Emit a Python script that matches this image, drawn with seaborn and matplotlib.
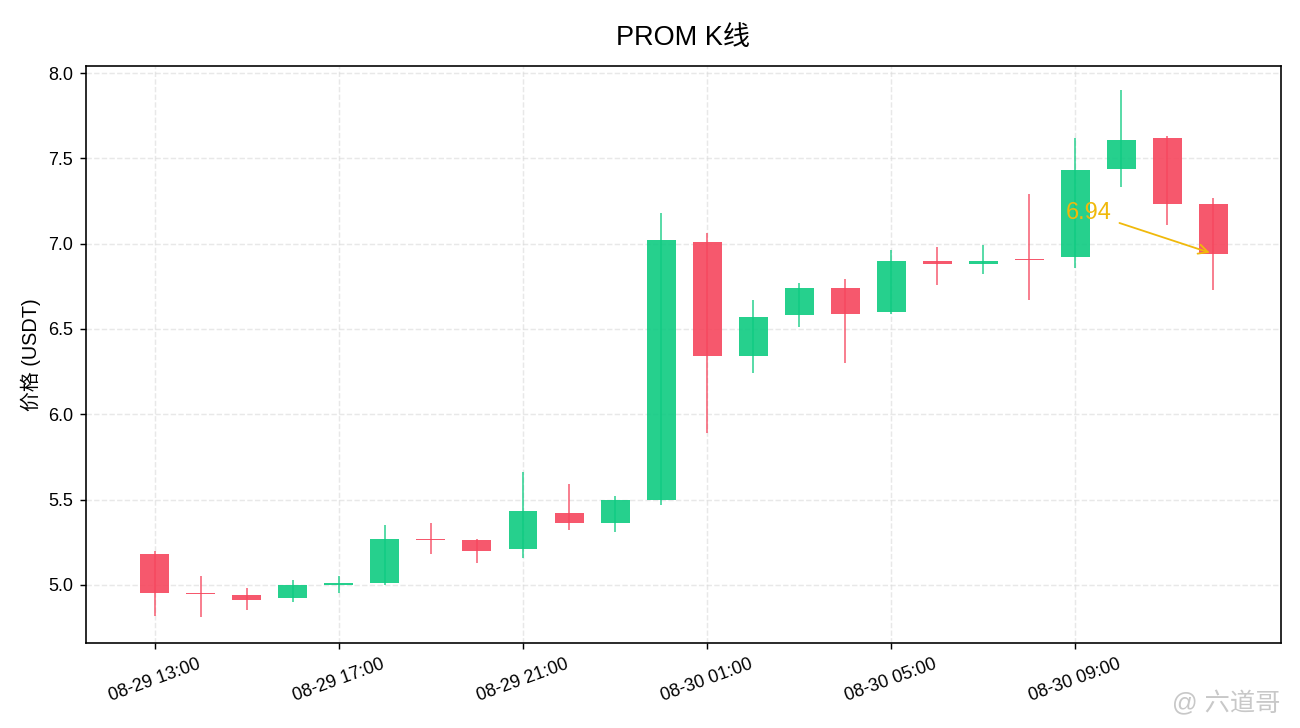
import seaborn as sns
import matplotlib.pyplot as plt
import pandas as pd

# hourly candles, PROM/USDT
times = ["2025-08-29 13:00", "2025-08-29 14:00", "2025-08-29 15:00", "2025-08-29 16:00",
         "2025-08-29 17:00", "2025-08-29 18:00", "2025-08-29 19:00", "2025-08-29 20:00",
         "2025-08-29 21:00", "2025-08-29 22:00", "2025-08-29 23:00", "2025-08-30 00:00",
         "2025-08-30 01:00", "2025-08-30 02:00", "2025-08-30 03:00", "2025-08-30 04:00",
         "2025-08-30 05:00", "2025-08-30 06:00", "2025-08-30 07:00", "2025-08-30 08:00",
         "2025-08-30 09:00", "2025-08-30 10:00", "2025-08-30 11:00", "2025-08-30 12:00"]
open_ = [5.18, 4.95, 4.94, 4.92, 5.00, 5.01, 5.27, 5.26, 5.21, 5.42, 5.36, 5.50,
         7.01, 6.34, 6.58, 6.74, 6.60, 6.90, 6.88, 6.91, 6.92, 7.44, 7.62, 7.23]
close = [4.95, 4.945, 4.91, 5.00, 5.01, 5.27, 5.26, 5.20, 5.43, 5.36, 5.50, 7.02,
         6.34, 6.57, 6.74, 6.59, 6.90, 6.88, 6.90, 6.905, 7.43, 7.61, 7.23, 6.94]
high = [5.20, 5.05, 4.98, 5.03, 5.05, 5.35, 5.36, 5.27, 5.66, 5.59, 5.52, 7.18,
        7.06, 6.67, 6.77, 6.79, 6.96, 6.98, 6.99, 7.29, 7.62, 7.90, 7.63, 7.27]
low = [4.82, 4.81, 4.85, 4.90, 4.95, 5.00, 5.18, 5.13, 5.16, 5.32, 5.31, 5.47,
       5.89, 6.24, 6.51, 6.30, 6.59, 6.76, 6.82, 6.67, 6.86, 7.33, 7.11, 6.73]
last_price = 6.94

df = pd.DataFrame({'time': pd.to_datetime(times), 'open': open_, 'close': close,
                   'high': high, 'low': low})
df['pos'] = range(len(df))
df['up'] = df['close'] >= df['open']

UP = '#0ecb81'
DOWN = '#f6465d'
GOLD = '#f0b90b'

sns.set_theme(style='ticks')
plt.rcParams['font.family'] = ['Liberation Sans', 'Noto Sans CJK SC', 'DejaVu Sans']
plt.rcParams['text.color'] = 'black'
plt.rcParams['axes.labelcolor'] = 'black'

fig, ax = plt.subplots(figsize=(10, 5.6), dpi=130)
fig.subplots_adjust(left=0.066, right=0.985, bottom=0.117, top=0.909)

colors = [UP if u else DOWN for u in df['up']]

# wicks
ax.vlines(df['pos'], df['low'], df['high'], colors=colors, linewidth=1.0, alpha=0.75, zorder=2)
# bodies
body = (df['close'] - df['open']).abs().clip(lower=0.005)
bottom = df[['open', 'close']].min(axis=1)
ax.bar(df['pos'], body, bottom=bottom, width=0.63, color=colors, alpha=0.9,
       linewidth=0, zorder=3)

ax.set_ylim(4.66, 8.04)
ax.set_xlim(-1.5, 24.46)
ax.set_yticks([5.0, 5.5, 6.0, 6.5, 7.0, 7.5, 8.0])
ax.set_yticklabels([f'{v:.1f}' for v in [5.0, 5.5, 6.0, 6.5, 7.0, 7.5, 8.0]])

tick_pos = df['pos'][::4]
ax.set_xticks(tick_pos)
ax.set_xticklabels(df['time'][::4].dt.strftime('%m-%d %H:%M'), rotation=20, ha='center')
ax.tick_params(labelsize=10, colors='black', length=3.5, width=0.8)

ax.grid(True, linestyle='--', color='#d9d9d9', alpha=0.6, linewidth=0.8)
ax.set_axisbelow(True)
for s in ax.spines.values():
    s.set_color('black')
    s.set_linewidth(0.9)

ax.set_title('PROM K线', fontsize=15, pad=12, color='black')
ax.set_ylabel('价格 (USDT)', fontsize=11)
ax.set_xlabel('')

# latest price marker
ax.annotate(f'{last_price:.2f}', xy=(df['pos'].iloc[-1], last_price),
            xytext=(19.8, 7.18), color=GOLD, fontsize=13, ha='left', va='center',
            arrowprops=dict(arrowstyle='->', color=GOLD, lw=1.0))

fig.text(0.985, 0.033, '@ 六道哥', color='#c8c8c8', fontsize=14, ha='right', va='center')

plt.savefig('out.png', dpi=130)
